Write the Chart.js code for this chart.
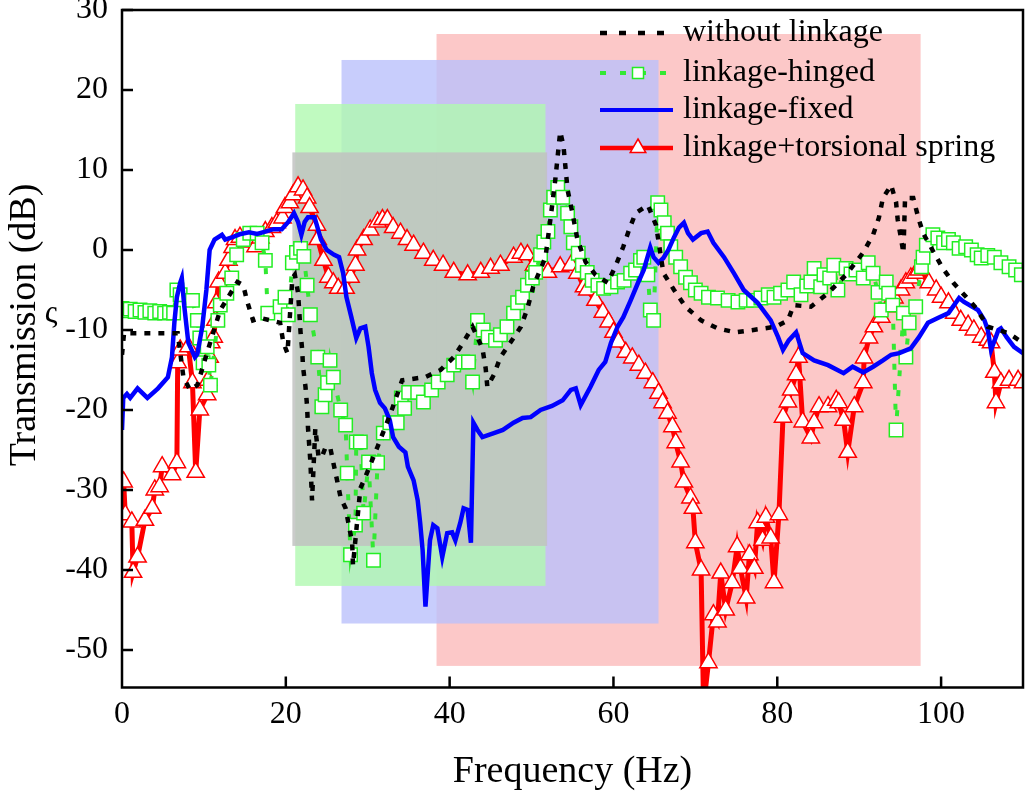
<!DOCTYPE html>
<html>
<head>
<meta charset="utf-8">
<script src="https://cdn.jsdelivr.net/npm/chart.js@4.4.0/dist/chart.umd.min.js"></script>
<style>
  html, body { margin: 0; padding: 0; background: #fff; }
</style>
</head>
<body>
<canvas id="chart" width="1025" height="791"></canvas>
<script>
const serif = "'Liberation Serif', 'Times New Roman', serif";

// [frequency Hz, transmission dB]
const withoutLinkage = [[0,-13.1],[0.25,-10.4],[2.6,-10.4],[5.0,-10.4],[6.8,-10.4],[7.5,-15.9],[8.3,-17.5],[9.2,-16.9],[10.1,-13.8],[12.0,-7.5],[14.1,-4.0],[14.8,-4.4],[15.3,-6.5],[16.0,-8.8],[16.9,-8.5],[18.1,-8.8],[19.3,-9.1],[19.7,-11.6],[20.2,-12.9],[20.8,-3.5],[21.1,-3.1],[21.5,-5.4],[21.8,-10.3],[22.0,-12.5],[22.1,-14.6],[22.4,-17.1],[22.6,-19.6],[22.7,-22.1],[23.0,-26.5],[23.2,-31.3],[23.6,-22.3],[24.0,-25.9],[24.4,-25.9],[24.8,-24.8],[25.4,-24.6],[25.8,-26.6],[26.3,-29.0],[26.7,-31.0],[27.3,-32.3],[28.1,-36.6],[28.2,-39.4],[29.1,-29.8],[29.7,-28.4],[31.2,-24.6],[32.8,-20.4],[34.2,-16.3],[37.0,-15.9],[38.9,-15.0],[40.5,-13.4],[41.7,-11.5],[42.8,-9.6],[44.0,-12.3],[44.4,-14.8],[44.6,-17.1],[45.4,-15.6],[46.2,-13.4],[47.4,-11.6],[48.7,-9.6],[49.5,-7.3],[50.2,-4.6],[51.7,-0.9],[52.3,3.8],[52.9,8.8],[53.5,14.8],[53.9,13.0],[54.4,7.5],[55.0,4.6],[55.6,1.3],[56.6,-1.5],[57.8,-3.1],[59.3,-4.1],[60.3,-1.9],[61.2,0.4],[61.9,2.5],[62.7,4.6],[64.2,5.6],[65.2,3.1],[66.1,-2.9],[67.4,-5.0],[68.8,-7.1],[70.7,-8.8],[72.7,-9.8],[74.9,-10.3],[77.1,-10.0],[79.8,-9.6],[81.3,-8.8],[82.0,-6.9],[84.1,-7.1],[86.2,-5.4],[88.4,-3.1],[90.5,-0.3],[91.7,1.9],[92.4,4.0],[92.9,6.5],[93.9,8.1],[94.5,6.0],[94.7,3.8],[95.1,1.5],[95.4,-0.4],[95.6,6.5],[96.6,6.5],[97.2,4.1],[97.8,2.1],[100.2,-2.3],[101.5,-4.1],[104.3,-7.3],[105.7,-9.6],[107.0,-10.0],[108.2,-10.4],[110,-11.6]];

const linkageHinged = [[0,-7.3],[0.5,-7.6],[1.0,-7.4],[1.6,-7.7],[2.2,-7.5],[2.8,-7.8],[3.4,-7.6],[4.0,-7.9],[4.6,-7.7],[5.2,-7.9],[5.8,-7.8],[6.3,-7.9],[6.7,-5.0],[7.1,-5.6],[8.6,-6.3],[9.2,-8.8],[9.5,-11.0],[9.9,-14.1],[10.4,-12.1],[10.6,-14.4],[10.8,-16.9],[11.7,-8.8],[12.0,-6.9],[12.8,-5.4],[13.4,-3.5],[14.0,-0.6],[14.8,1.3],[15.6,2.1],[16.5,2.1],[17.1,0.9],[17.5,-1.3],[17.8,-7.9],[19.3,-7.1],[19.9,-5.9],[20.3,-8.1],[20.8,-1.6],[21.3,-0.3],[21.8,0.2],[22.2,-0.8],[22.6,-4.4],[23.0,-8.1],[23.9,-13.4],[24.4,-19.6],[24.8,-18.1],[25.1,-16.6],[25.4,-13.8],[25.8,-15.9],[26.7,-20.0],[27.3,-21.9],[27.5,-27.9],[27.9,-38.1],[28.5,-34.4],[28.6,-24.0],[29.1,-24.0],[29.5,-32.9],[30.1,-26.5],[30.7,-38.8],[31.2,-26.6],[31.9,-22.9],[32.7,-21.6],[33.6,-21.6],[34.1,-18.5],[34.5,-19.8],[35.0,-17.8],[36.1,-17.8],[36.8,-19.0],[37.8,-17.5],[38.6,-16.5],[39.7,-15.6],[40.5,-14.4],[41.6,-14.0],[42.3,-14.0],[42.8,-16.5],[43.4,-8.8],[44.1,-10.0],[44.7,-10.9],[45.6,-11.3],[46.2,-10.6],[47.0,-9.6],[47.8,-7.9],[48.3,-6.6],[48.9,-5.9],[49.5,-4.4],[50.1,-3.5],[50.5,-2.8],[51.1,-0.6],[51.5,1.0],[52.0,2.3],[52.3,5.0],[52.7,6.6],[53.2,7.8],[53.8,6.6],[54.4,4.6],[54.8,2.9],[55.1,0.9],[55.7,-0.4],[56.2,-1.9],[56.8,-2.8],[57.4,-3.8],[58.1,-4.4],[58.8,-4.8],[59.7,-4.6],[60.5,-4.0],[61.3,-3.8],[62.1,-2.9],[62.7,-2.5],[63.3,-1.3],[63.7,-0.9],[64.2,-3.1],[64.5,-7.5],[64.9,-8.8],[65.4,5.9],[65.8,5.0],[66.2,3.4],[66.6,2.1],[67.0,0.4],[67.6,-0.9],[68.2,-2.1],[68.8,-3.4],[69.4,-4.1],[70.0,-5.0],[70.7,-5.4],[71.6,-5.9],[72.7,-6.0],[74.0,-6.3],[75.2,-6.5],[76.2,-6.3],[77.1,-6.3],[78.0,-6.0],[78.9,-5.6],[79.6,-5.9],[80.4,-5.4],[81.3,-5.0],[82.0,-4.0],[82.9,-5.6],[83.6,-4.5],[84.1,-4.0],[84.5,-2.3],[85.3,-4.6],[85.7,-3.1],[86.4,-3.5],[86.9,-1.9],[87.4,-5.0],[88.4,-2.3],[89.0,-3.0],[89.6,-2.5],[90.5,-3.5],[91.1,-1.6],[91.7,-2.9],[92.3,-5.3],[92.7,-7.5],[93.3,-4.0],[93.6,-5.4],[94.1,-6.9],[94.5,-22.5],[95.4,-7.9],[95.7,-13.4],[96.1,-9.1],[96.9,-7.1],[97.6,-2.1],[97.8,-0.9],[98.2,0.6],[99.0,1.9],[99.6,1.5],[100.3,0.9],[100.9,1.3],[101.5,0.9],[102.2,0.2],[103.0,0.4],[103.7,0.0],[104.4,-0.6],[104.9,-1.0],[105.7,-0.7],[106.5,-0.9],[107.3,-1.6],[108.3,-2.1],[109.1,-2.5],[109.8,-3.1]];

const linkageFixed = [[0,-22.5],[0.15,-18.5],[0.6,-18.0],[1.0,-18.5],[1.9,-17.3],[3.1,-18.5],[4.4,-17.3],[5.6,-15.9],[6.1,-13.4],[6.4,-9.0],[6.7,-5.9],[7.1,-4.1],[7.3,-3.5],[7.6,-7.0],[8.1,-11.6],[8.9,-13.4],[9.2,-13.0],[9.8,-9.6],[10.3,-5.0],[10.7,0.0],[11.3,1.3],[12.2,1.9],[12.6,1.3],[13.5,1.6],[14.5,2.0],[15.5,2.2],[16.5,2.0],[17.5,2.3],[18.5,2.6],[19.5,2.6],[20.3,3.5],[21.0,4.6],[21.5,3.5],[21.9,1.9],[22.3,3.5],[22.7,4.1],[23.5,4.1],[24.3,1.3],[25.0,0.0],[25.9,-0.6],[26.5,-0.9],[27.0,-2.9],[27.4,-5.9],[28.0,-8.4],[28.6,-11.0],[29.1,-9.8],[29.7,-9.6],[30.1,-12.1],[30.5,-15.4],[30.9,-17.5],[31.5,-19.1],[32.1,-19.8],[32.7,-21.3],[33.1,-23.4],[33.8,-24.6],[34.6,-25.3],[34.9,-27.1],[35.6,-28.8],[36.1,-31.3],[36.4,-34.1],[36.7,-37.5],[36.9,-41.6],[37.05,-44.6],[37.6,-36.3],[38.0,-34.4],[38.5,-34.8],[39.1,-38.4],[39.7,-35.4],[40.3,-35.3],[40.7,-36.3],[41.3,-34.1],[41.7,-32.3],[42.2,-32.5],[42.6,-36.6],[42.9,-21.6],[43.4,-22.5],[44.0,-23.4],[45.4,-22.9],[46.5,-22.5],[47.8,-21.6],[48.9,-21.0],[49.9,-20.9],[51.1,-20.0],[52.5,-19.5],[53.8,-18.8],[54.8,-17.5],[55.4,-17.3],[56.0,-19.4],[57.2,-17.1],[58.2,-15.0],[59.0,-14.0],[59.7,-11.6],[60.5,-9.6],[61.2,-8.4],[62.1,-6.3],[63.0,-4.1],[63.7,-2.5],[64.5,0.3],[64.9,-0.9],[65.5,-1.6],[66.1,-1.0],[66.7,0.0],[67.4,1.6],[68.0,2.8],[68.6,3.4],[69.1,2.1],[69.7,1.3],[70.7,2.1],[71.5,2.3],[72.2,0.9],[73.5,-0.9],[74.7,-2.9],[75.9,-5.0],[77.6,-6.6],[79.2,-8.8],[80.1,-10.9],[80.7,-12.5],[81.4,-11.3],[82.3,-10.3],[83.1,-12.9],[84.5,-13.8],[86.2,-14.4],[88.1,-15.4],[89.2,-14.6],[90.5,-15.3],[91.7,-14.6],[92.9,-13.8],[93.9,-13.1],[94.9,-12.9],[96.3,-12.3],[97.3,-10.9],[98.4,-9.1],[99.6,-8.5],[100.9,-7.9],[102.2,-6.0],[102.8,-6.5],[104.5,-7.5],[105.3,-8.8],[105.7,-10.0],[106.1,-12.5],[107.0,-10.0],[107.3,-9.8],[108.0,-10.9],[108.9,-12.1],[110,-12.9]];

const linkageSpring = [[0.2,-29.0],[0.4,-33.1],[1.2,-34.0],[1.35,-40.3],[1.9,-38.4],[2.8,-33.8],[3.7,-32.3],[4.0,-30.0],[4.6,-29.6],[4.9,-27.1],[6.1,-28.1],[6.7,-26.6],[6.8,-14.1],[7.1,-12.5],[8.1,-12.1],[8.6,-16.6],[9.0,-27.8],[9.5,-20.0],[10.4,-18.1],[10.5,-16.3],[10.7,-13.4],[10.9,-11.6],[11.2,-10.9],[11.4,-8.8],[11.5,-6.6],[11.8,-4.0],[12.6,-2.9],[13.0,-1.3],[13.5,0.3],[13.8,1.3],[14.4,1.6],[15.3,1.0],[16.3,0.4],[16.9,1.5],[17.5,2.3],[18.3,2.8],[18.9,3.4],[19.6,4.0],[19.9,5.3],[20.5,5.9],[20.9,6.9],[21.5,7.9],[22.1,7.5],[22.6,6.5],[22.9,5.3],[23.8,3.1],[23.9,1.3],[24.6,-1.3],[25.2,-3.4],[25.8,-4.1],[26.4,-4.8],[27.3,-4.8],[27.9,-3.4],[28.5,-1.9],[28.7,0.0],[29.5,1.3],[30.3,2.5],[31.2,3.5],[31.8,3.8],[32.4,3.8],[33.1,2.8],[34.0,2.1],[34.8,1.3],[35.6,0.6],[36.8,-0.4],[38.0,-1.3],[39.2,-1.9],[40.5,-2.8],[42.2,-3.1],[43.8,-2.8],[45.0,-2.3],[46.2,-1.9],[47.8,-0.9],[48.7,-0.4],[49.5,-0.6],[50.3,-1.9],[51.5,-1.9],[52.0,-2.8],[53.5,-2.1],[54.8,-1.9],[55.6,-2.9],[56.4,-4.6],[56.8,-5.0],[57.8,-6.3],[58.7,-7.8],[59.4,-9.0],[60.0,-10.3],[60.6,-11.5],[61.5,-12.8],[62.3,-13.5],[63.1,-14.4],[63.9,-15.4],[64.8,-16.6],[65.5,-17.9],[66.0,-19.1],[66.6,-20.4],[67.2,-22.1],[67.6,-24.1],[68.2,-26.5],[68.6,-29.0],[69.4,-31.0],[69.7,-32.3],[70.0,-36.6],[70.7,-40.0],[71.0,-57.0],[71.6,-51.6],[72.2,-45.6],[72.7,-46.5],[73.1,-40.4],[73.7,-45.0],[74.5,-41.6],[75.1,-37.1],[75.5,-39.8],[76.2,-43.5],[76.6,-38.1],[77.2,-39.8],[77.6,-34.1],[78.2,-36.3],[78.6,-33.4],[79.2,-36.0],[79.6,-41.6],[80.2,-33.1],[80.7,-20.9],[81.3,-19.0],[81.7,-17.5],[82.3,-15.6],[82.6,-13.4],[83.1,-21.5],[84.1,-23.5],[84.5,-21.6],[85.1,-19.6],[86.2,-19.6],[87.2,-18.8],[87.5,-19.1],[88.1,-21.3],[88.6,-25.3],[89.4,-19.6],[90.5,-16.6],[90.6,-13.5],[91.2,-11.0],[91.8,-9.6],[92.7,-8.4],[93.5,-7.1],[94.3,-6.0],[95.1,-5.0],[95.7,-4.1],[96.3,-3.5],[96.9,-2.9],[97.3,-2.5],[98.5,-4.1],[99.4,-5.0],[100.0,-5.9],[100.9,-6.6],[101.6,-7.9],[102.4,-8.8],[103.3,-9.4],[104.0,-10.0],[104.9,-10.9],[105.7,-11.3],[106.1,-11.6],[106.5,-15.3],[106.7,-19.1],[107.3,-16.6],[108.3,-16.3],[109.4,-16.3],[110,-16.6]];

// shaded frequency bands: [x0, x1] in Hz, [y0, y1] in dB
const bandHz = [[38.4, 97.5], [26.8, 65.5], [21.15, 51.7], [20.8, 51.9]];
const bandDb = [[-52.0, 27.0], [-46.7, 23.75], [-42.0, 18.25], [-37.0, 12.2]];
const bandColors = ['rgba(252,200,200,1)', 'rgba(186,192,251,0.8)', 'rgba(176,249,176,0.8)', 'rgba(193,194,193,0.85)'];

const xTickValues = [0, 20, 40, 60, 80, 100];
const yTickValues = [-50, -40, -30, -20, -10, 0, 10, 20, 30];

const seriesNames = ['without linkage', 'linkage-hinged', 'linkage-fixed', 'linkage+torsional spring'];

const toPts = arr => arr.map(p => ({ x: p[0], y: p[1] }));

const shadePlugin = {
  id: 'shade',
  beforeDatasetsDraw(chart) {
    const { ctx, scales: { x, y } } = chart;
    ctx.save();
    for (let i = 0; i < bandHz.length; i++) {
      const x0 = x.getPixelForValue(bandHz[i][0]);
      const x1 = x.getPixelForValue(bandHz[i][1]);
      const y0 = y.getPixelForValue(bandDb[i][1]);
      const y1 = y.getPixelForValue(bandDb[i][0]);
      ctx.fillStyle = bandColors[i];
      ctx.fillRect(x0, y0, x1 - x0, y1 - y0);
    }
    ctx.restore();
  }
};

const framePlugin = {
  id: 'frame',
  afterDatasetsDraw(chart) {
    const { ctx, chartArea: a, scales: { x, y } } = chart;
    ctx.save();
    ctx.strokeStyle = '#000';
    ctx.lineWidth = 2.5;
    ctx.beginPath();
    x.ticks.forEach(t => {
      if (t.value <= 0) return;
      const px = x.getPixelForValue(t.value);
      ctx.moveTo(px, a.bottom);
      ctx.lineTo(px, a.bottom - 11);
    });
    y.ticks.forEach(t => {
      const py = y.getPixelForValue(t.value);
      ctx.moveTo(a.left, py);
      ctx.lineTo(a.left + 11, py);
    });
    ctx.stroke();
    ctx.strokeRect(a.left, a.top, a.right - a.left, a.bottom - a.top);

    // y title, drawn by hand so it sits where the original has it
    ctx.fillStyle = '#000';
    ctx.font = '38px ' + serif;
    ctx.textAlign = 'center';
    ctx.textBaseline = 'middle';
    ctx.translate(25, 325);
    ctx.rotate(-Math.PI / 2);
    ctx.fillText('Transmission (dB)', 0, 0);
    ctx.restore();

    ctx.save();
    ctx.fillStyle = '#000';
    ctx.font = '32px ' + serif;
    ctx.textAlign = 'center';
    ctx.textBaseline = 'middle';
    ctx.fillText('ς', 51, 314);
    ctx.restore();
  }
};

const legendPlugin = {
  id: 'customLegend',
  afterDraw(chart) {
    const ctx = chart.ctx;
    const rows = [33, 73, 110, 148];
    const x0 = 600, x1 = 670, mid = 638;
    ctx.save();
    ctx.lineCap = 'butt';

    // without linkage
    ctx.strokeStyle = '#000';
    ctx.lineWidth = 4.5;
    ctx.setLineDash([7, 12]);
    ctx.beginPath(); ctx.moveTo(x0, rows[0]); ctx.lineTo(x1, rows[0]); ctx.stroke();

    // linkage-hinged
    ctx.strokeStyle = '#33e833';
    ctx.lineWidth = 4;
    ctx.setLineDash([6, 14]);
    ctx.beginPath(); ctx.moveTo(x0, rows[1]); ctx.lineTo(x1, rows[1]); ctx.stroke();
    ctx.setLineDash([]);
    ctx.fillStyle = '#fff';
    ctx.strokeStyle = '#22ee22';
    ctx.lineWidth = 1.5;
    ctx.fillRect(mid - 5.5, rows[1] - 5.5, 11, 11);
    ctx.strokeRect(mid - 5.5, rows[1] - 5.5, 11, 11);

    // linkage-fixed
    ctx.strokeStyle = '#0000ff';
    ctx.lineWidth = 4;
    ctx.beginPath(); ctx.moveTo(x0, rows[2]); ctx.lineTo(x1 + 3, rows[2]); ctx.stroke();

    // linkage+torsional spring
    ctx.strokeStyle = '#ff0000';
    ctx.lineWidth = 4.5;
    ctx.beginPath(); ctx.moveTo(x0, rows[3]); ctx.lineTo(x1 + 3, rows[3]); ctx.stroke();
    ctx.fillStyle = '#fff';
    ctx.lineWidth = 1.5;
    ctx.beginPath();
    ctx.moveTo(mid, rows[3] - 9);
    ctx.lineTo(mid + 7.8, rows[3] + 4.5);
    ctx.lineTo(mid - 7.8, rows[3] + 4.5);
    ctx.closePath();
    ctx.fill(); ctx.stroke();

    ctx.fillStyle = '#000';
    ctx.font = '32px ' + serif;
    ctx.textAlign = 'left';
    ctx.textBaseline = 'middle';
    seriesNames.forEach((name, i) => ctx.fillText(name, 683, rows[i]));
    ctx.restore();
  }
};

const ctx = document.getElementById('chart').getContext('2d');
new Chart(ctx, {
  type: 'line',
  data: {
    datasets: [
      {
        label: seriesNames[0],
        data: toPts(withoutLinkage),
        borderColor: '#000',
        borderWidth: 4.5,
        borderDash: [6, 8],
        pointRadius: 0,
        order: 0
      },
      {
        label: seriesNames[1],
        data: toPts(linkageHinged),
        borderColor: '#33e833',
        borderWidth: 4,
        borderDash: [6, 14],
        pointStyle: 'rect',
        pointRadius: 9.5,
        pointBorderColor: '#22ee22',
        pointBackgroundColor: '#fff',
        pointBorderWidth: 1.5,
        order: 2
      },
      {
        label: seriesNames[2],
        data: toPts(linkageFixed),
        borderColor: '#0000ff',
        borderWidth: 4.5,
        pointRadius: 0,
        order: 1
      },
      {
        label: seriesNames[3],
        data: toPts(linkageSpring),
        borderColor: '#ff0000',
        borderWidth: 5,
        pointStyle: 'triangle',
        pointRadius: 10,
        pointBorderColor: '#ff0000',
        pointBackgroundColor: '#fff',
        pointBorderWidth: 1.5,
        order: 3
      }
    ]
  },
  options: {
    responsive: false,
    animation: false,
    devicePixelRatio: 1,
    elements: { line: { tension: 0 } },
    datasets: { line: { clip: 0 } },
    layout: { autoPadding: false, padding: { top: 10, right: 2, left: 0, bottom: 0 } },
    plugins: { legend: { display: false }, tooltip: { enabled: false } },
    scales: {
      x: {
        type: 'linear',
        min: 0,
        max: 110,
        grid: { display: false, drawTicks: false },
        border: { display: false },
        ticks: { padding: 8, color: '#000', maxRotation: 0, autoSkip: false, font: { family: serif, size: 32 } },
        afterBuildTicks: s => { s.ticks = xTickValues.map(v => ({ value: v })); },
        afterFit: s => { s.height = 103.5; s.paddingLeft = 0; s.paddingRight = 0; },
        title: { display: true, text: 'Frequency (Hz)', color: '#000', padding: 0, font: { family: serif, size: 38, lineHeight: 1 } }
      },
      y: {
        type: 'linear',
        min: -54.7,
        max: 30,
        grid: { display: false, drawTicks: false },
        border: { display: false },
        ticks: { padding: 14, color: '#000', autoSkip: false, font: { family: serif, size: 32 } },
        afterBuildTicks: s => { s.ticks = yTickValues.map(v => ({ value: v })); },
        afterFit: s => { s.width = 122; s.paddingTop = 0; s.paddingBottom = 0; },
        title: { display: false }
      }
    }
  },
  plugins: [shadePlugin, framePlugin, legendPlugin]
});
</script>
</body>
</html>
